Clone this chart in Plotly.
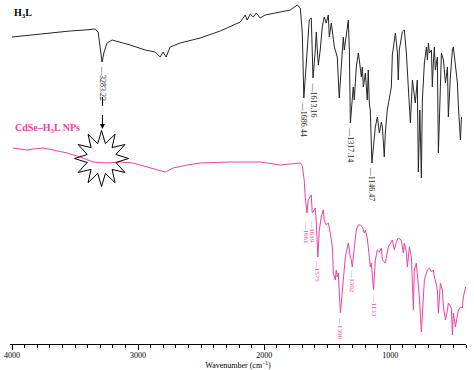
import numpy as np
import plotly.graph_objects as go

# H3L spectrum (wavenumber cm-1, transmittance a.u., offset trace)
h3l_wn = [4000, 3857, 3698, 3540, 3421, 3341, 3317, 3302, 3286, 3270, 3246, 3206, 3143, 3063,
          2944, 2865, 2825, 2802, 2778, 2746, 2667, 2508, 2349, 2190, 2151, 2135, 2111, 2087,
          2063, 2032, 1992, 1873, 1794, 1738, 1714, 1698, 1686, 1659, 1643, 1627, 1613, 1595,
          1587, 1579, 1571, 1556, 1540, 1524, 1508, 1492, 1484, 1468, 1460, 1444, 1421, 1405,
          1389, 1373, 1365, 1349, 1333, 1325, 1317, 1294, 1286, 1270, 1254, 1246, 1230, 1222,
          1214, 1198, 1183, 1175, 1167, 1159, 1151, 1146, 1119, 1103, 1087, 1071, 1063, 1048,
          1040, 1024, 992, 984, 960, 944, 937, 929, 905, 889, 873, 857, 841, 825, 817, 802, 786,
          778, 766, 754, 746, 738, 730, 714, 706, 698, 690, 674, 667, 659, 651, 643, 627, 619,
          603, 595, 579, 563, 547, 540, 524, 508, 500, 484, 468, 460, 444, 436]
h3l_t = [307, 309, 311, 313, 314, 315, 312, 299, 282, 292, 301, 304, 302, 299,
         294, 292, 287, 292, 287, 297, 301, 306, 313, 322, 329, 324, 330, 327,
         331, 326, 329, 332, 334, 339, 336, 311, 246, 294, 324, 326, 266, 294,
         312, 294, 279, 294, 317, 327, 321, 329, 307, 321, 311, 297, 287, 246,
         277, 307, 294, 311, 324, 294, 221, 257, 244, 277, 291, 284, 267, 277,
         257, 271, 244, 274, 241, 234, 204, 181, 217, 227, 211, 222, 217, 187,
         211, 234, 257, 289, 311, 291, 264, 294, 312, 314, 291, 251, 221, 264, 254, 241, 264,
         172, 234, 166, 244, 267, 281, 297, 284, 301, 291, 294, 257, 281, 297, 274, 287, 191,
         277, 291, 284, 261, 277, 227, 267, 294, 297, 277, 261, 237, 204, 227]

# CdSe-H3L NPs spectrum
np_wn = [3992, 3937, 3881, 3833, 3754, 3675, 3563, 3460, 3357, 3246, 3143, 3040, 2929, 2825,
         2786, 2722, 2611, 2508, 2270, 2032, 1873, 1714, 1698, 1683, 1675, 1661, 1651, 1627,
         1619, 1595, 1587, 1575, 1563, 1548, 1532, 1524, 1508, 1492, 1476, 1460, 1452, 1437,
         1429, 1421, 1413, 1396, 1381, 1373, 1357, 1341, 1333, 1317, 1310, 1302, 1286, 1270,
         1254, 1238, 1222, 1206, 1198, 1183, 1175, 1159, 1151, 1133, 1119, 1103, 1087, 1071,
         1063, 1040, 1016, 984, 968, 952, 937, 913, 897, 889, 873, 865, 849, 833, 817, 810,
         794, 778, 770, 754, 738, 730, 706, 690, 674, 659, 651, 643, 627, 619, 603, 587, 579,
         563, 547, 540, 516, 508, 500, 484, 468, 460, 444, 429, 421, 403]
np_t = [196, 195, 194, 195, 196, 194, 191, 187, 182, 181, 182, 181, 177, 174,
        172, 176, 179, 181, 182, 182, 179, 181, 178, 164, 147, 131, 144, 149,
        131, 136, 121, 87, 114, 127, 134, 124, 119, 121, 111, 97, 71, 64,
        74, 67, 71, 31, 54, 64, 87, 97, 101, 87, 84, 77, 97, 114,
        119, 119, 117, 111, 114, 106, 97, 77, 81, 54, 84, 94, 92, 96,
        84, 81, 97, 104, 94, 102, 106, 104, 91, 101, 92, 77, 97, 87, 34, 74,
        81, 57, 47, 12, 44, 64, 74, 76, 72, 74, 67, 64, 54, 31, 61, 54, 37,
        24, 34, 41, 36, 9, 31, 17, 29, 34, 37, 36, 47, 57]

# Peak labels: (wavenumber, label, top of label in a.u.)
h3l_peaks = [3283.22, 1686.44, 1613.16, 1317.14, 1146.47]
h3l_peak_top = [280, 244, 264, 219, 179]
np_peaks = [1661, 1619, 1575, 1396, 1302, 1133]
np_peak_top = [124, 126, 86, 29, 76, 52]

tick_vals = [4000, 3000, 2000, 1000]

BLACK = "#262626"
PINK = "#f0429b"
SERIF = "Liberation Serif"

fig = go.Figure()
fig.add_trace(go.Scatter(x=h3l_wn, y=h3l_t, mode="lines",
                         line=dict(color=BLACK, width=1), hoverinfo="skip"))
fig.add_trace(go.Scatter(x=np_wn, y=np_t, mode="lines",
                         line=dict(color=PINK, width=1), hoverinfo="skip"))

for w, top in zip(h3l_peaks, h3l_peak_top):
    fig.add_annotation(x=w, y=top, text="—" + f"{w:.2f}", textangle=90,
                       showarrow=False, xanchor="center", yanchor="top",
                       font=dict(family=SERIF, size=8, color=BLACK))
for w, top in zip(np_peaks, np_peak_top):
    fig.add_annotation(x=w, y=top, text="—" + str(w), textangle=90,
                       showarrow=False, xanchor="center", yanchor="top",
                       font=dict(family=SERIF, size=7, color=PINK))

# series titles
fig.add_annotation(x=4000, y=331, text="<b>H<sub>3</sub>L</b>", showarrow=False,
                   xanchor="left", yanchor="middle",
                   font=dict(family=SERIF, size=10, color="black"))
fig.add_annotation(x=3992, y=216, text="<b>CdSe–H<sub>3</sub>L NPs</b>", showarrow=False,
                   xanchor="left", yanchor="middle",
                   font=dict(family=SERIF, size=10, color=PINK))

# dashed arrow from the 3283 peak to the starburst
fig.add_shape(type="line", x0=3283, x1=3283, y0=247, y1=220, xref="x", yref="y",
              line=dict(color="black", width=1, dash="dash"))
fig.add_annotation(x=3283, y=215, ax=3283, ay=222, xref="x", yref="y", axref="x", ayref="y",
                   text="", showarrow=True, arrowhead=2, arrowsize=1, arrowwidth=1,
                   arrowcolor="black")

# starburst
cx, cy = 3290, 185.5
n = 12
ang = np.linspace(np.pi / 2, np.pi / 2 + 2 * np.pi, 2 * n, endpoint=False)
rad = np.where(np.arange(2 * n) % 2 == 0, 1.0, 0.55)
px_x, px_y = 7.937 * 27, 28
sx = cx + rad * px_x * np.cos(ang)
sy = cy + rad * px_y * np.sin(ang)
path = "M " + " L ".join(f"{a:.1f},{b:.1f}" for a, b in zip(sx, sy)) + " Z"
fig.add_shape(type="path", path=path, xref="x", yref="y",
              line=dict(color="black", width=1), fillcolor="rgba(0,0,0,0)")

fig.update_layout(
    width=474, height=370,
    margin=dict(l=10, r=8, t=0, b=26),
    paper_bgcolor="white", plot_bgcolor="white",
    showlegend=False,
    xaxis=dict(range=[4016, 400], tickvals=tick_vals, ticktext=[str(v) for v in tick_vals],
               ticks="outside", ticklen=5, tickcolor="black", tickwidth=1,
               showline=True, linecolor="black", linewidth=1, showgrid=False, zeroline=False,
               automargin=False, ticklabelstandoff=-2,
               minor=dict(dtick=100, tick0=0, ticks="outside", ticklen=3, tickcolor="black",
                          showgrid=False),
               tickfont=dict(family=SERIF, size=8, color="black"),
               title=dict(text="Wavenumber (cm<sup>−1</sup>)", standoff=3,
                          font=dict(family=SERIF, size=8, color="black"))),
    yaxis=dict(range=[0, 344], visible=False, showgrid=False, zeroline=False),
)

fig.write_html("out.html", config={"displayModeBar": False},
               post_script="document.body.style.margin='0';document.body.style.overflow='hidden';")
